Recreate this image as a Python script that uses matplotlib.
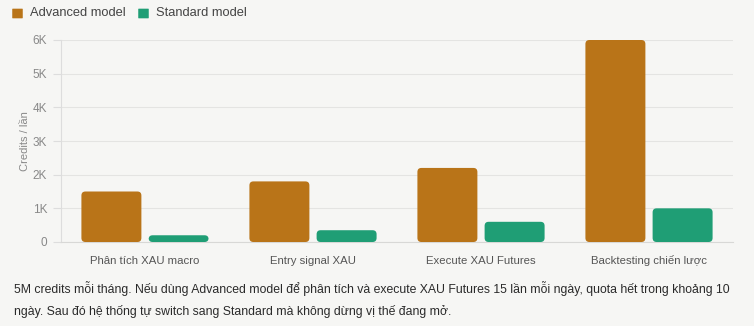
import numpy as np
import matplotlib.pyplot as plt
from matplotlib.patches import FancyBboxPatch

categories = ['Phân tích XAU macro', 'Entry signal XAU', 'Execute XAU Futures', 'Backtesting chiến lược']
advanced = [1500, 1800, 2200, 6000]
standard = [200, 350, 600, 1000]
yticks = [0, 1000, 2000, 3000, 4000, 5000, 6000]
ytick_labels = ['0', '1K', '2K', '3K', '4K', '5K', '6K']

c_adv = '#b97418'
c_std = '#1f9e75'
bg = '#f6f6f4'
fam = ['Liberation Sans', 'DejaVu Sans']

fig = plt.figure(figsize=(7.54, 3.26), dpi=100, facecolor=bg)
ax = fig.add_axes([61 / 754, 84 / 326, 672 / 754, 202 / 326], facecolor=bg)

x = np.arange(len(categories))
w = 0.357
off = 0.2
bars_a = ax.bar(x - off, advanced, w, color=c_adv)
bars_s = ax.bar(x + off, standard, w, color=c_std)

# swap plain rectangles for slightly rounded ones
ax.set_xlim(-0.5, 3.5)
ax.set_ylim(0, 6000)
px_x = 4 / 168.0  # ~4 px in x data units
aspect = (6000 / 202.0) / (1 / 168.0)
for b in list(bars_a) + list(bars_s):
    b.set_visible(False)
    r = FancyBboxPatch((b.get_x() + px_x, px_x * aspect), b.get_width() - 2 * px_x,
                       b.get_height() - 2 * px_x * aspect,
                       boxstyle=f'round,pad={px_x}', mutation_aspect=aspect,
                       facecolor=b.get_facecolor(), edgecolor='none', zorder=3)
    ax.add_patch(r)

ax.set_yticks(yticks)
ax.set_yticklabels(ytick_labels, family=fam, fontsize=8.5, color='#888888')
ax.set_xticks(x)
ax.set_xticklabels(categories, family=fam, fontsize=8.2, color='#555555', va='baseline')
ax.tick_params(axis='y', length=6, color='#dddddd', pad=4)
ax.tick_params(axis='x', length=0, pad=16)
ax.grid(axis='y', color='#e4e4e2', linewidth=0.8, zorder=0)
ax.set_axisbelow(True)
for s in ['top', 'right']:
    ax.spines[s].set_visible(False)
ax.spines['left'].set_color('#dddddd')
ax.spines['bottom'].set_color('#d8d8d6')
ax.set_ylabel('Credits / lần', family=fam, fontsize=8, color='#888888', labelpad=2)

# legend drawn by hand at the top-left
fig.patches.append(FancyBboxPatch((13 / 754, 308 / 326), 9 / 754, 9 / 326, boxstyle='round,pad=0.001',
                                  transform=fig.transFigure, facecolor=c_adv, edgecolor='none'))
fig.text(30 / 754, 313 / 326, 'Advanced model', family=fam, fontsize=9.3, color='#444444', va='center')
fig.patches.append(FancyBboxPatch((139 / 754, 308 / 326), 9 / 754, 9 / 326, boxstyle='round,pad=0.001',
                                  transform=fig.transFigure, facecolor=c_std, edgecolor='none'))
fig.text(156 / 754, 313 / 326, 'Standard model', family=fam, fontsize=9.3, color='#444444', va='center')

fig.text(14 / 754, 37 / 326,
         '5M credits mỗi tháng. Nếu dùng Advanced model để phân tích và execute XAU Futures 15 lần mỗi ngày, quota hết trong khoảng 10',
         family=fam, fontsize=8.8, color='#2a2a2a', va='center')
fig.text(14 / 754, 15 / 326,
         'ngày. Sau đó hệ thống tự switch sang Standard mà không dừng vị thế đang mở.',
         family=fam, fontsize=8.8, color='#2a2a2a', va='center')

fig.savefig('out.png', dpi=100, facecolor=bg)
